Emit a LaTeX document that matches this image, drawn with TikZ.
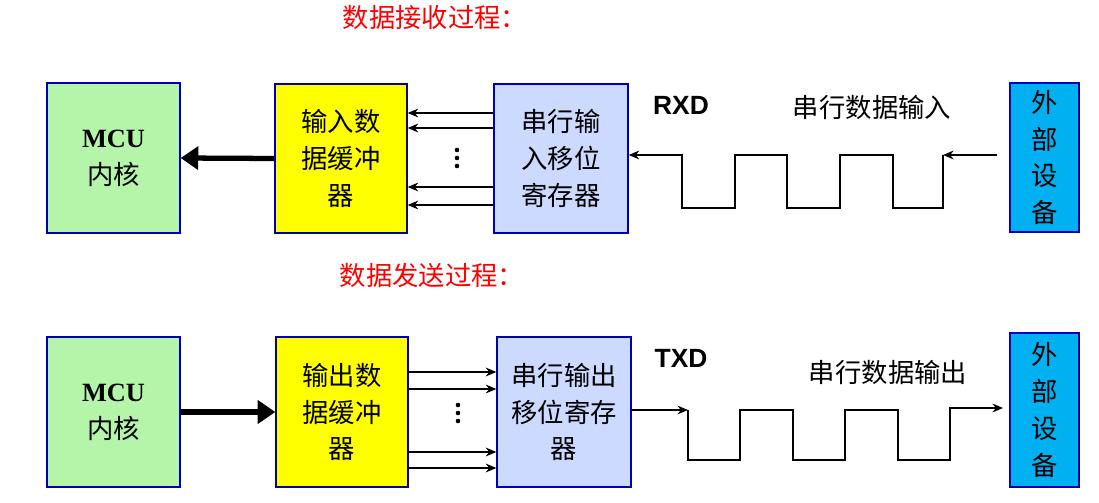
\documentclass[tikz,border=0pt]{standalone}
\usepackage{fontspec}
\setmainfont{Liberation Serif}
\newfontfamily\cjk{Noto Sans CJK SC}
\newfontfamily\sans{Liberation Sans}
\usetikzlibrary{arrows.meta,positioning}
\definecolor{mcugreen}{RGB}{180,245,170}
\definecolor{bufyellow}{RGB}{255,255,0}
\definecolor{reglilac}{RGB}{204,218,255}
\definecolor{devcyan}{RGB}{0,176,240}
\tikzset{
  blk/.style={draw=blue!70!black, line width=0.8pt, inner sep=0pt, align=center, font=\cjk\fontsize{15}{21}\selectfont},
  sig/.style={line width=0.9pt, -{Stealth[length=6pt,width=5pt]}},
  fat/.style={line width=3pt, -{Triangle[length=10pt,width=13pt]}},
  title/.style={text=red, font=\cjk\fontsize{15}{18}\selectfont},
  dot/.style={circle, fill=black, inner sep=0pt, minimum size=2.6pt}
}
\begin{document}
\begin{tikzpicture}[x=0.02cm,y=-0.02cm]
\useasboundingbox (0,0) rectangle (1099,503);
% receive
\node[title] (t1) at (435,18) {数据接收过程：};
\node[blk, fill=mcugreen, minimum width=2.66cm, minimum height=3cm] (mcu1) at (113.5,158) {{\bfseries\rmfamily MCU}\\内核};
\node[blk, fill=bufyellow, minimum width=2.64cm, minimum height=2.98cm] (buf1) at (341,158.5) {输入数\\据缓冲\\器};
\node[blk, fill=reglilac, minimum width=2.68cm, minimum height=2.98cm] (reg1) at (561,158.5) {串行输\\入移位\\寄存器};
\node[blk, fill=devcyan, minimum width=1.38cm, minimum height=2.98cm] (dev1) at (1044.5,157.5) {外\\部\\设\\备};
\draw[fat] (buf1.west) -- (mcu1.east);
\foreach \y in {113,128,187,205}
  \draw[sig] (reg1.west |- 0,\y) -- (buf1.east |- 0,\y);
\foreach \y in {150,158,166}
  \node[dot] at (457,\y) {};
\node[font=\sans\bfseries\fontsize{15}{18}\selectfont] (rxd) at (681,105) {RXD};
\node[font=\cjk\fontsize{15}{18}\selectfont] (rin) at (872,107) {串行数据输入};
\coordinate (w1) at (997,155);
\draw[sig] (w1) -- (943,155);
\draw[line width=0.9pt] (943,155) -- (943,208) -- (893,208) -- (893,155) -- (840,155) -- (840,208)
  -- (787,208) -- (787,155) -- (735,155) -- (735,208) -- (682,208) -- (682,155) -- (660,155);
\draw[sig] (660,155) -- (reg1.east |- 0,155);
% send
\node[title] (t2) at (432,275) {数据发送过程：};
\node[blk, fill=mcugreen, minimum width=2.66cm, minimum height=3cm] (mcu2) at (113.5,412) {{\bfseries\rmfamily MCU}\\内核};
\node[blk, fill=bufyellow, minimum width=2.64cm, minimum height=3cm] (buf2) at (342,412) {输出数\\据缓冲\\器};
\node[blk, fill=reglilac, minimum width=2.68cm, minimum height=3cm] (reg2) at (564,412) {串行输出\\移位寄存\\器};
\node[blk, fill=devcyan, minimum width=1.38cm, minimum height=3.08cm] (dev2) at (1044.5,410) {外\\部\\设\\备};
\draw[fat] (mcu2.east) -- (buf2.west);
\foreach \y in {405,413,421}
  \node[dot] at (458,\y) {};
\foreach \y in {372,389,452,468}
  \draw[sig] (buf2.east |- 0,\y) -- (reg2.west |- 0,\y);
\node[font=\sans\bfseries\fontsize{15}{18}\selectfont] (txd) at (681,358) {TXD};
\node[font=\cjk\fontsize{15}{18}\selectfont] (rout) at (888,372) {串行数据输出};
\coordinate (w2) at (1003,408);
\draw[sig] (reg2.east |- 0,410) -- (688,410);
\draw[line width=0.9pt] (688,410) -- (688,460) -- (740,460) -- (740,410) -- (793,410) -- (793,460)
  -- (845,460) -- (845,410) -- (898,410) -- (898,460) -- (950,460) -- (950,408) -- (970,408);
\draw[sig] (970,408) -- (w2);
\end{tikzpicture}
\end{document}
